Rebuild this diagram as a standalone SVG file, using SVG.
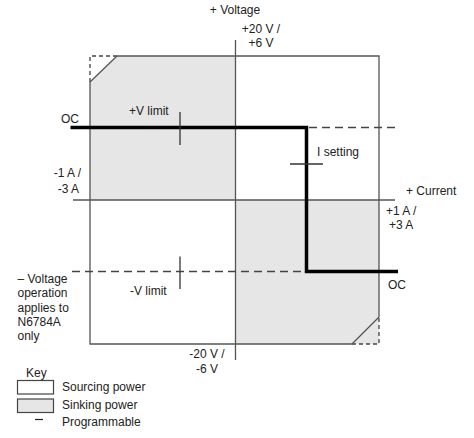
<svg xmlns="http://www.w3.org/2000/svg" width="474" height="438" viewBox="0 0 474 438">
<style>
text{font-family:"Liberation Sans",Arial,sans-serif;font-size:12px;fill:#222}
.ln{stroke:#555;stroke-width:1.3;fill:none}
.dash{stroke:#444;stroke-width:1.3;fill:none;stroke-dasharray:8,5}
.sdash{stroke:#444;stroke-width:1.3;fill:none;stroke-dasharray:4,3}
.thick{stroke:#000;stroke-width:3.5;fill:none}
.tick{stroke:#333;stroke-width:1.3;fill:none}
.sink{fill:#e6e6e6;stroke:none}
</style>
<g id="regions">
<polygon class="sink" points="117,56 235.5,56 235.5,200 90,200 90,82"/>
<rect class="sink" x="235.5" y="200" width="143.5" height="144"/>
</g>
<g id="frame">
<polyline class="ln" points="117,56 379,56 379,317"/>
<polyline class="ln" points="90,82 90,344 352,344"/>
<path class="sdash" d="M90,82 V56 H117"/>
<path class="ln" d="M117,56 L90,82"/>
<path class="sdash" d="M352,344 H379 V317"/>
<path class="ln" d="M352,344 L379,317"/>
</g>
<g id="axes">
<line class="ln" x1="235.5" y1="40" x2="235.5" y2="360"/>
<line class="ln" x1="73" y1="200" x2="395" y2="200"/>
</g>
<g id="connectors">
<polyline class="thick" points="70.5,127.5 306.5,127.5 306.5,271.5 398,271.5"/>
<line class="dash" x1="309" y1="127.5" x2="398" y2="127.5"/>
<line class="dash" x1="72" y1="271.5" x2="305" y2="271.5"/>
<line class="tick" x1="180" y1="112" x2="180" y2="145"/>
<line class="tick" x1="180" y1="256.5" x2="180" y2="289"/>
<line class="tick" x1="290" y1="164" x2="323" y2="164"/>
</g>
<g id="labels">
<text x="235" y="14" text-anchor="middle">+ Voltage</text>
<text x="261" y="33" text-anchor="middle">+20 V /</text>
<text x="261" y="47" text-anchor="middle">+6 V</text>
<text x="79" y="123" text-anchor="end">OC</text>
<text x="129" y="115">+V limit</text>
<text x="317" y="156">I setting</text>
<text x="81" y="177" text-anchor="end">-1 A /</text>
<text x="79" y="193" text-anchor="end">-3 A</text>
<text x="406" y="195">+ Current</text>
<text x="386" y="215">+1 A /</text>
<text x="389" y="229">+3 A</text>
<text x="130" y="295">-V limit</text>
<text x="388" y="289">OC</text>
<text x="17.5" y="283">– Voltage</text>
<text x="17.5" y="297">operation</text>
<text x="17.5" y="312">applies to</text>
<text x="17.5" y="326">N6784A</text>
<text x="17.5" y="340">only</text>
<text x="207" y="358" text-anchor="middle">-20 V /</text>
<text x="207" y="373" text-anchor="middle">-6 V</text>
</g>
<g id="key">
<text x="26" y="377">Key</text>
<rect x="17.5" y="380.5" width="36" height="13.5" fill="#fff" stroke="#444" stroke-width="1.2"/>
<rect x="17.5" y="399" width="36" height="13.5" fill="#e6e6e6" stroke="#444" stroke-width="1.2"/>
<line x1="35" y1="419.5" x2="43" y2="419.5" stroke="#222" stroke-width="1.2"/>
<text x="62" y="391">Sourcing power</text>
<text x="62" y="408.5">Sinking power</text>
<text x="62" y="426">Programmable</text>
</g>
</svg>
